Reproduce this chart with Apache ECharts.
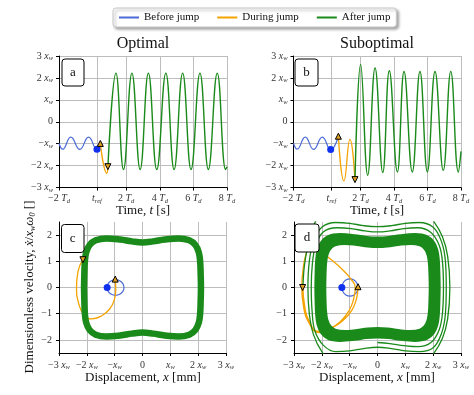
<!DOCTYPE html>
<html><head><meta charset="utf-8">
<script src="https://cdn.jsdelivr.net/npm/echarts@6/dist/echarts.min.js"></script>
<style>html,body{margin:0;padding:0;background:#fff}#c{width:474px;height:395px}</style>
</head><body><div id="c"></div>
<script>
// ---- tick values and labels ----
const timeTicks = [-2, 0.26, 2, 4, 6, 8];
const timeTickLabels = ['−2 {i|T}{s|d}', '{i|t}{s|ref}', '2 {i|T}{s|d}', '4 {i|T}{s|d}', '6 {i|T}{s|d}', '8 {i|T}{s|d}'];
const dispTicks = [-3, -2, -1, 0, 1, 2, 3];
const dispTickLabels = ['−3 {i|x}{s|w}', '−2 {i|x}{s|w}', '−{i|x}{s|w}', '0', '{i|x}{s|w}', '2 {i|x}{s|w}', '3 {i|x}{s|w}'];
const velTicks = [-2, -1, 0, 1, 2];
const velTickLabels = ['−2', '−1', '0', '1', '2'];

// ---- panel a: optimal, time series (t in T_d, x in x_w) ----
const aBefore = [[-2,-0.98],[-1.78,-1.25],[-1.3,-0.7],[-0.76,-1.26],[-0.24,-0.7],[0.26,-1.26],[0.46,-0.99]];
const aDuring = [[0.46,-0.99],[0.85,-2.35],[0.91,-2.08]];
const aAfter = [[0.91,-2.08],[1.39,2.22],[1.84,-2.18],[2.34,2.22],[2.83,-2.18],[3.32,2.22],[3.82,-2.18],[4.36,2.22],[4.85,-2.18],[5.36,2.22],[5.86,-2.18],[6.39,2.22],[6.89,-2.18],[7.42,2.22],[7.92,-2.18],[8,-2.05]];
const aDot = [[0.26,-1.26]];
const aStart = [[0.46,-0.99]];
const aEnd = [[0.91,-2.05]];

// ---- panel b: suboptimal, time series ----
const bBefore = [[-2,-0.98],[-1.78,-1.25],[-1.3,-0.7],[-0.8,-1.26],[-0.28,-0.7],[0.22,-1.27],[0.68,-0.66]];
const bDuring = [[0.68,-0.66],[1.01,-2.7],[1.37,-0.8],[1.67,-2.68]];
const bAfter = [[1.67,-2.68],[2.01,2.62],[2.43,-2.44],[2.87,2.45],[3.33,-2.32],[3.72,2.33],[4.2,-2.29],[4.6,2.29],[5.09,-2.29],[5.55,2.29],[5.99,-2.29],[6.45,2.29],[6.94,-2.22],[7.39,2.3],[7.84,-2.29],[8,-1.35]];
const bDot = [[0.22,-1.27]];
const bStart = [[0.68,-0.66]];
const bEnd = [[1.67,-2.64]];

// ---- panel c: optimal, phase portrait (x in x_w, v dimensionless) ----
const cBefore = [[-1.275,0],[-1.234,0.15],[-1.12,0.26],[-0.97,0.3],[-0.82,0.26],[-0.706,0.15],[-0.665,0],[-0.706,-0.15],[-0.82,-0.26],[-0.97,-0.3],[-1.12,-0.26],[-1.234,-0.15],[-1.275,0]];
const cDuring = [[-0.98,0.32],[-0.96,-0.1],[-1.02,-0.5],[-1.18,-0.82],[-1.45,-1.07],[-1.83,-1.2],[-2.1,-1.05],[-2.29,-0.62],[-2.37,0],[-2.32,0.6],[-2.14,1.06]];
const cAfter = [[-2.10,0],[-2.09,0.5],[-2.07,1.0],[-2.02,1.35],[-1.9,1.62],[-1.68,1.8],[-1.3,1.87],[-0.8,1.83],[-0.38,1.76],[0,1.72],[0.38,1.76],[0.8,1.83],[1.3,1.87],[1.68,1.8],[1.9,1.62],[2.02,1.35],[2.07,1.0],[2.09,0.5],[2.10,0],[2.09,-0.5],[2.07,-1.0],[2.02,-1.35],[1.9,-1.62],[1.68,-1.8],[1.3,-1.87],[0.8,-1.83],[0.38,-1.76],[0,-1.72],[-0.38,-1.76],[-0.8,-1.83],[-1.3,-1.87],[-1.68,-1.8],[-1.9,-1.62],[-2.02,-1.35],[-2.07,-1.0],[-2.09,-0.5],[-2.10,0]];
const cDot = [[-1.27,0]];
const cStart = [[-0.98,0.32]];
const cEnd = [[-2.14,1.06]];

// ---- panel d: suboptimal, phase portrait ----
const dBefore = [[-1.28,0],[-1.24,0.165],[-1.135,0.285],[-0.99,0.33],[-0.845,0.285],[-0.74,0.165],[-0.7,0],[-0.74,-0.165],[-0.845,-0.285],[-0.99,-0.33],[-1.135,-0.285],[-1.24,-0.165],[-1.28,0]];
const dDuring = [[-0.7,0],[-0.76,-0.45],[-0.93,-0.88],[-1.25,-1.27],[-1.65,-1.55],[-2.1,-1.72],[-2.5,-1.28],[-2.66,-0.7],[-2.72,0],[-2.67,0.72],[-2.56,1.3],[-2.38,1.68],[-2.17,1.52],[-1.85,1.22],[-1.5,0.92],[-1.2,0.62],[-0.97,0.34],[-0.8,0],[-0.86,-0.45],[-1.03,-0.9],[-1.33,-1.3],[-1.72,-1.58],[-2.12,-1.68],[-2.47,-1.25],[-2.62,-0.68],[-2.68,0]];
const dAfterSpiral = [[-2.68,0],[-2.63,0.8],[-2.52,1.5],[-2.36,2.1],[-2.18,2.6],[-1.7,3.0],[-0.8,2.95],[0,2.85],[0.8,2.95],[1.6,3.0],[2.0,2.55],[2.33,1.95],[2.52,1.2],[2.6,0],[2.52,-1.2],[2.33,-1.95],[2.0,-2.55],[1.6,-3.0],[0.8,-2.9],[0,-2.8],[-0.8,-2.9],[-1.6,-2.9],[-2.0,-2.45],[-2.3,-1.8],[-2.45,-1.0],[-2.5,0],[-2.45,1.0],[-2.3,1.75],[-2.0,2.3],[-1.5,2.48],[-1.0,2.45],[-0.5,2.36],[0,2.32],[0.5,2.36],[1.0,2.45],[1.5,2.48],[2.0,2.3],[2.3,1.75],[2.44,1.0],[2.47,0],[2.44,-1.0],[2.3,-1.75],[2.0,-2.3],[1.5,-2.45],[1.0,-2.42],[0.5,-2.33],[0,-2.28],[-0.5,-2.33],[-1.0,-2.42],[-1.5,-2.45],[-1.95,-2.2],[-2.25,-1.65],[-2.35,-0.9],[-2.38,0],[-2.34,0.9],[-2.22,1.6],[-1.95,2.12],[-1.45,2.28],[-0.95,2.25],[-0.45,2.16],[0,2.12],[0.45,2.16],[0.95,2.25],[1.45,2.28],[1.92,2.1],[2.22,1.6],[2.34,0.9],[2.37,0],[2.34,-0.9],[2.22,-1.6],[1.92,-2.1],[1.45,-2.26],[0.95,-2.22],[0.45,-2.14],[0,-2.1]];
const dAfterInner = [[-1.93,0],[-1.92,0.5],[-1.9,0.93],[-1.85,1.26],[-1.74,1.5],[-1.54,1.66],[-1.18,1.72],[-0.74,1.68],[-0.35,1.62],[0,1.6],[0.35,1.62],[0.74,1.68],[1.18,1.72],[1.54,1.66],[1.74,1.5],[1.85,1.26],[1.9,0.93],[1.92,0.5],[1.93,0],[1.92,-0.5],[1.9,-0.93],[1.85,-1.26],[1.74,-1.5],[1.54,-1.66],[1.18,-1.72],[0.74,-1.68],[0.35,-1.62],[0,-1.6],[-0.35,-1.62],[-0.74,-1.68],[-1.18,-1.72],[-1.54,-1.66],[-1.74,-1.5],[-1.85,-1.26],[-1.9,-0.93],[-1.92,-0.5],[-1.93,0]];
const dAfterMid = [[-2.06,0],[-2.05,0.5],[-2.03,0.98],[-1.98,1.33],[-1.86,1.6],[-1.64,1.79],[-1.26,1.86],[-0.78,1.82],[-0.37,1.76],[0,1.74],[0.37,1.76],[0.78,1.82],[1.26,1.86],[1.64,1.79],[1.86,1.6],[1.98,1.33],[2.03,0.98],[2.05,0.5],[2.06,0],[2.05,-0.5],[2.03,-0.98],[1.98,-1.33],[1.86,-1.6],[1.64,-1.79],[1.26,-1.86],[0.78,-1.82],[0.37,-1.76],[0,-1.74],[-0.37,-1.76],[-0.78,-1.82],[-1.26,-1.86],[-1.64,-1.79],[-1.86,-1.6],[-1.98,-1.33],[-2.03,-0.98],[-2.05,-0.5],[-2.06,0]];
const dAfterOuter = [[-2.18,0],[-2.17,0.52],[-2.15,1.03],[-2.1,1.41],[-1.98,1.7],[-1.76,1.91],[-1.34,1.98],[-0.83,1.94],[-0.4,1.87],[0,1.85],[0.4,1.87],[0.83,1.94],[1.34,1.98],[1.76,1.91],[1.98,1.7],[2.1,1.41],[2.15,1.03],[2.17,0.52],[2.18,0],[2.17,-0.52],[2.15,-1.03],[2.1,-1.41],[1.98,-1.7],[1.76,-1.91],[1.34,-1.98],[0.83,-1.94],[0.4,-1.87],[0,-1.85],[-0.4,-1.87],[-0.83,-1.94],[-1.34,-1.98],[-1.76,-1.91],[-1.98,-1.7],[-2.1,-1.41],[-2.15,-1.03],[-2.17,-0.52],[-2.18,0]];
const dDot = [[-1.28,0]];
const dStart = [[-0.7,0.03]];
const dEnd = [[-2.69,0]];

// ---- styling ----
const SERIF = "'Liberation Serif','DejaVu Serif',serif";
const C_BEFORE = '#4a6bd6', C_DURING = '#f5a300', C_AFTER = '#1a8a1a';
const rich = {
  i: { fontFamily: SERIF, fontStyle: 'italic', fontSize: 10, color: '#333', lineHeight: 12, verticalAlign: 'middle' },
  s: { fontFamily: SERIF, fontStyle: 'italic', fontSize: 6.5, color: '#333', lineHeight: 7, verticalAlign: 'bottom' }
};
function fmt(ticks, labels) {
  return function (v) {
    const k = ticks.findIndex(t => Math.abs(t - v) < 1e-6);
    return k >= 0 ? labels[k] : '';
  };
}
function axis(type, grid, min, max, ticks, labels, margin) {
  return {
    type: 'value', gridIndex: grid, min: min, max: max,
    axisLine: { show: true, onZero: false, lineStyle: { color: '#000', width: 1 } },
    axisTick: { show: true, length: 3, customValues: ticks, lineStyle: { color: '#000' } },
    axisLabel: { customValues: ticks, formatter: fmt(ticks, labels), margin: margin,
      fontFamily: SERIF, fontSize: 10, color: '#333', lineHeight: 12, rich: rich, hideOverlap: false, showMinLabel: true, showMaxLabel: true },
    splitLine: { show: true, lineStyle: { color: '#bdbdbd', width: 1 } },
    minorTick: { show: false }, minorSplitLine: { show: false }
  };
}
function line(name, data, xi, color, width, z, smooth) {
  return { name: name, type: 'line', xAxisIndex: xi, yAxisIndex: xi, data: data, symbol: 'none', showSymbol: false,
    smooth: smooth, lineStyle: { color: color, width: width }, itemStyle: { color: color }, z: z, silent: true };
}
function mark(name, data, xi, symbol, size, color, rot) {
  return { name: name, type: 'scatter', xAxisIndex: xi, yAxisIndex: xi, data: data, symbol: symbol, symbolSize: size,
    symbolRotate: rot || 0, itemStyle: { color: color, borderColor: '#000', borderWidth: symbol === 'triangle' ? 1 : 0, opacity: 1 }, z: 20, silent: true };
}

const grids = [
  { left: 59, top: 56, width: 168, height: 131.5 },
  { left: 293.5, top: 56, width: 167.5, height: 131.5 },
  { left: 59, top: 222, width: 167, height: 131 },
  { left: 294, top: 222, width: 167, height: 131 }
].map(g => Object.assign({ outerBoundsMode: 'none', containLabel: false, show: false }, g));

const xAxes = [
  axis('x', 0, -2, 8, timeTicks, timeTickLabels, 5),
  axis('x', 1, -2, 8, timeTicks, timeTickLabels, 5),
  axis('x', 2, -3, 3, dispTicks, dispTickLabels, 6),
  axis('x', 3, -3, 3, dispTicks, dispTickLabels, 6)
];
const yAxes = [
  axis('y', 0, -3, 3, dispTicks, dispTickLabels, 6),
  axis('y', 1, -3, 3, dispTicks, dispTickLabels, 6),
  axis('y', 2, -2.5, 2.5, velTicks, velTickLabels, 7),
  axis('y', 3, -2.5, 2.5, velTicks, velTickLabels, 7)
];

const series = [
  line('Before jump', aBefore, 0, C_BEFORE, 1.2, 3, 0.5),
  line('During jump', aDuring, 0, C_DURING, 1.3, 4, 0.5),
  line('After jump', aAfter, 0, C_AFTER, 1.4, 5, 0.45),
  line('Before jump', bBefore, 1, C_BEFORE, 1.2, 3, 0.5),
  line('During jump', bDuring, 1, C_DURING, 1.3, 4, 0.5),
  line('After jump', bAfter, 1, C_AFTER, 1.4, 5, 0.45),
  line('Before jump', cBefore, 2, C_BEFORE, 1.2, 3, 0.5),
  line('During jump', cDuring, 2, C_DURING, 1.3, 4, 0.5),
  line('After jump', cAfter, 2, C_AFTER, 6.5, 5, 0.4),
  line('Before jump', dBefore, 3, C_BEFORE, 1.2, 3, 0.5),
  line('During jump', dDuring, 3, C_DURING, 1.3, 4, 0.5),
  line('After jump', dAfterSpiral, 3, C_AFTER, 1.3, 5, 0.4),
  line('After jump', dAfterOuter, 3, C_AFTER, 5, 5, 0.4),
  line('After jump', dAfterMid, 3, C_AFTER, 5, 5, 0.4),
  line('After jump', dAfterInner, 3, C_AFTER, 5, 5, 0.4),
  mark('ref', aDot, 0, 'circle', 7, '#1030f0'), mark('start', aStart, 0, 'triangle', 6, '#e0a020'), mark('end', aEnd, 0, 'triangle', 6, '#e0a020', 180),
  mark('ref', bDot, 1, 'circle', 7, '#1030f0'), mark('start', bStart, 1, 'triangle', 6, '#e0a020'), mark('end', bEnd, 1, 'triangle', 6, '#e0a020', 180),
  mark('ref', cDot, 2, 'circle', 7, '#1030f0'), mark('start', cStart, 2, 'triangle', 6, '#e0a020'), mark('end', cEnd, 2, 'triangle', 6, '#e0a020', 180),
  mark('ref', dDot, 3, 'circle', 7, '#1030f0'), mark('start', dStart, 3, 'triangle', 6, '#e0a020'), mark('end', dEnd, 3, 'triangle', 6, '#e0a020', 180)
];

function textEl(x, y, text, size, extra) {
  return Object.assign({ type: 'text', x: x, y: y, z: 50, silent: true,
    style: { text: text, fontFamily: SERIF, fontSize: size, fill: '#111', align: 'center', verticalAlign: 'middle',
      rich: { i: { fontFamily: SERIF, fontStyle: 'italic', fontSize: size, fill: '#111' },
              s: { fontFamily: SERIF, fontStyle: 'italic', fontSize: size * 0.62, fill: '#111', verticalAlign: 'bottom' } } } }, extra || {});
}
function box(x, y, w, h, letter) {
  return { type: 'group', z: 40, silent: true, children: [
    { type: 'rect', shape: { x: x, y: y, width: w, height: h, r: 3 }, style: { fill: '#fff', stroke: '#000', lineWidth: 1 }, z: 40 },
    { type: 'text', x: x + w / 2, y: y + h / 2, z: 41, style: { text: letter, fontFamily: SERIF, fontSize: 13, fill: '#111', align: 'center', verticalAlign: 'middle' } }
  ] };
}

const chart = echarts.init(document.getElementById('c'), null, { renderer: 'canvas' });
chart.setOption({
  animation: false,
  backgroundColor: '#fff',
  legend: {
    data: ['Before jump', 'During jump', 'After jump'],
    left: 113, top: 8, itemWidth: 20, itemHeight: 2, icon: 'rect', itemGap: 18,
    padding: [4, 6], borderColor: '#c8c8c8', borderWidth: 1, borderRadius: 3,
    shadowColor: 'rgba(0,0,0,0.35)', shadowBlur: 3, shadowOffsetX: 2, shadowOffsetY: 2, backgroundColor: '#fff',
    textStyle: { fontFamily: SERIF, fontSize: 11, color: '#111' }, selectedMode: false
  },
  grid: grids, xAxis: xAxes, yAxis: yAxes, series: series,
  graphic: [
    textEl(143, 44, 'Optimal', 16),
    textEl(377, 44, 'Suboptimal', 16),
    textEl(143, 211, 'Time, {i|t} [s]', 13),
    textEl(377, 211, 'Time, {i|t} [s]', 13),
    textEl(143, 378, 'Displacement, {i|x} [mm]', 13),
    textEl(377, 378, 'Displacement, {i|x} [mm]', 13),
    textEl(30, 287, 'Dimensionless velocity, {i|ẋ}/{i|x}{s|w}{i|ω}{s|0} []', 13, { rotation: Math.PI / 2 }),
    box(62, 59, 22, 27, 'a'), box(295, 59, 23, 27, 'b'), box(61.5, 224.5, 22.5, 28, 'c'), box(295, 224, 24, 28, 'd')
  ]
});
</script></body></html>
